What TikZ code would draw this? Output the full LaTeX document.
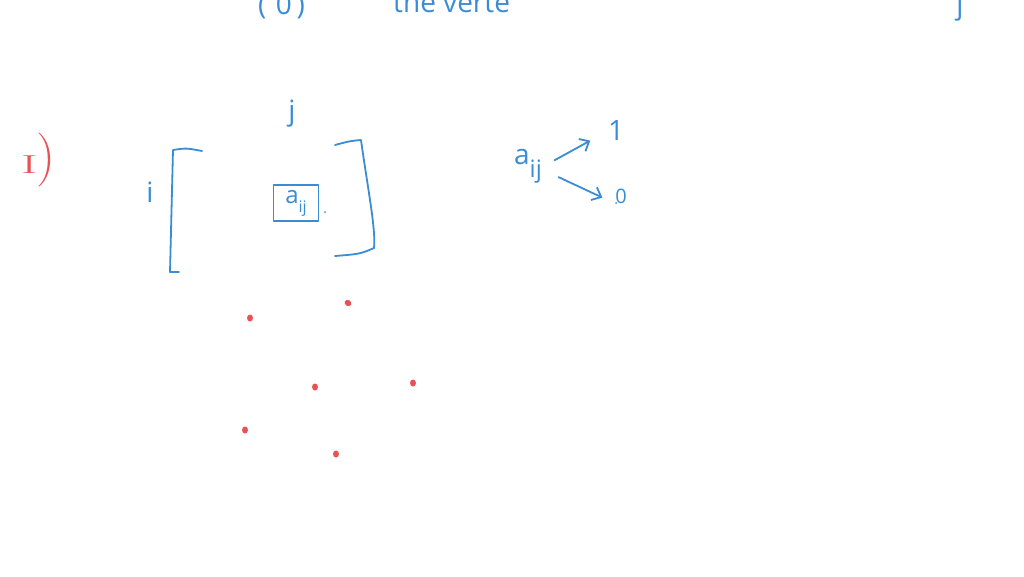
\documentclass[tikz,border=0pt]{standalone}
\usepackage{fontspec}
\usetikzlibrary{arrows.meta,shapes.geometric}
\newfontfamily\hand{Open Sans}
\definecolor{inkblue}{RGB}{58,140,215}
\definecolor{inkred}{RGB}{232,82,84}
\begin{document}
\begin{tikzpicture}[x=1pt,y=-1pt, line cap=round, line join=round,
  ink/.style={draw=inkblue, line width=1.8},
  lbl/.style={text=inkblue, font=\hand\fontsize{28}{28}\selectfont, inner sep=0},
  small/.style={text=inkblue, font=\hand\fontsize{20}{20}\selectfont, inner sep=0},
  reddot/.style={fill=inkred, ellipse, inner sep=0, minimum width=6, minimum height=7},
  bluedot/.style={fill=inkblue, circle, inner sep=0, minimum size=2},
  arr/.style={ink, -{Straight Barb[length=8,width=14,line width=1.8]}}]
\useasboundingbox (0,0) rectangle (1024,576);
\clip (0,0) rectangle (1024,576);
\fill[white] (0,0) rectangle (1024,576);
% top line, cut off at the edge
\node[lbl, anchor=base west] (topA) at (258,14) {(\,\,0\,)};
\node[lbl, anchor=base west] (topB) at (393,12) {the verte};
\node[lbl, anchor=base] (topJ) at (960,14) {j};
% I)
\node[text=inkred, inner sep=0, anchor=base west] (roman) at (21,173)
  {{\fontsize{26}{26}\selectfont\scalebox{1.9}[1]{I}}\kern-1pt{\fontsize{54}{54}\selectfont)}};
% matrix
\node[lbl] (ilbl) at (150,192) {i};
\node[lbl] (jlbl) at (292,114) {j};
\draw[ink] (202,151) .. controls (186,148) .. (173,150) -- (170,272) -- (179,272);
\draw[ink] (335,145) .. controls (350,141) .. (361,140) .. controls (368,190) and (376,230) .. (374,248) .. controls (360,254) .. (335,256);
\node[ink, minimum width=45, minimum height=36, inner sep=0, text=inkblue,
      font=\hand\fontsize{24}{24}\selectfont] (aij) at (296,203)
      {a\raisebox{-9pt}{\fontsize{16}{16}\selectfont ij}};
\node[bluedot] (d1) at (325,212) {};
% a_ij -> 1, 0
\node[lbl, inner sep=2] (a2) at (528,166)
      {a\raisebox{-13pt}{\fontsize{24}{24}\selectfont ij}};
\node[lbl] (one) at (616,131) {1};
\node[small] (zero) at (621,196) {0};
\node[bluedot] (d2) at (616,203) {};
\draw[arr, shorten <=12, shorten >=20] (a2.east) -- (one.west);
\draw[arr, shorten <=16, shorten >=14] (a2.-15) -- (zero.south west);
% red dots
\node[reddot] (r1) at (250,318) {};
\node[reddot, rotate=60] (r2) at (348,303) {};
\node[reddot] (r3) at (315,387) {};
\node[reddot] (r4) at (413,383) {};
\node[reddot] (r5) at (245,430) {};
\node[reddot] (r6) at (336,454) {};
\end{tikzpicture}
\end{document}
